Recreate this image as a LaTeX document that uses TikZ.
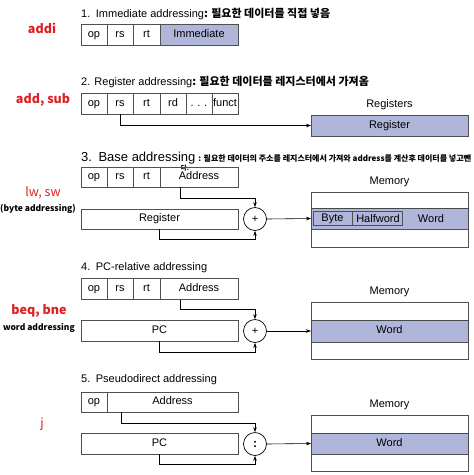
\documentclass[tikz,border=0pt]{standalone}
\usepackage{fontspec}
\setmainfont{Liberation Sans}
\newfontfamily\kr{Noto Sans CJK KR}
\usepackage{xcolor}
\usetikzlibrary{arrows.meta, positioning}
\definecolor{lav}{RGB}{176,182,218}
\definecolor{edge}{RGB}{80,80,80}
\definecolor{tagred}{RGB}{222,32,32}

\begin{document}
\begin{tikzpicture}[
      x=1pt, y=-1pt,
      field/.style={draw=edge, line width=0.7pt, minimum height=21pt, inner sep=0pt, outer sep=0pt,
        text height=8pt, text depth=2.2pt, font=\fontsize{11}{13}\selectfont},
      hl/.style={fill=lav},
      cell/.style={field, minimum width=157pt},
      band/.style={field, fill=lav, line width=1pt, draw=edge!90!black},
      adder/.style={circle, draw=black, line width=0.7pt, minimum size=23pt, inner sep=0pt,
        font=\fontsize{11}{12}\selectfont},
      title/.style={anchor=west, inner sep=0pt, font=\fontsize{11}{13}\selectfont},
      lbl/.style={inner sep=0pt, font=\fontsize{11}{13}\selectfont},
      tag/.style={inner sep=0pt, text=tagred, font=\kr\bfseries\fontsize{12.5}{14}\selectfont},
      note/.style={inner sep=0pt, font=\kr\bfseries\fontsize{8.5}{10}\selectfont},
      arr/.style={-{Stealth[length=5pt, width=3.5pt]}, line width=0.6pt}
    ]
    \useasboundingbox (0,0) rectangle (474,475);

    % 1. immediate
    \node[title] (t1) at (81,14) {1.\enspace Immediate addressing{\kr\bfseries\fontsize{11}{13}\selectfont: 필요한 데이터를 직접 넣음}};
    \node[tag] (tag1) at (42,28) {addi};
    \node[field, minimum width=26pt] (op1) at (94,34.5) {op};
    \node[field, minimum width=26pt, right=0pt of op1] (rs1) {rs};
    \node[field, minimum width=27pt, right=0pt of rs1] (rt1) {rt};
    \node[field, hl, minimum width=78pt, right=0pt of rt1] (imm1) {Immediate};

    % 2. register
    \node[title] (t2) at (81,82) {2. Register addressing{\kr\bfseries\fontsize{11}{13}\selectfont: 필요한 데이터를 레지스터에서 가져옴}};
    \node[tag] (tag2) at (43,100) {add, sub};
    \node[field, minimum width=26pt] (op2) at (94,103.5) {op};
    \node[field, minimum width=26pt, right=0pt of op2] (rs2) {rs};
    \node[field, minimum width=27pt, right=0pt of rs2] (rt2) {rt};
    \node[field, minimum width=26pt, right=0pt of rt2] (rd2) {rd};
    \node[field, minimum width=26pt, right=0pt of rd2] (dots2) {.\,\,.\,\,.};
    \node[field, minimum width=26pt, right=0pt of dots2] (fn2) {funct};
    \node[cell, hl] (reg2) at (389.5,125.5) {Register};
    \node[lbl, above=5pt of reg2] (regs2) {Registers};
    \draw[arr] (rs2.south) |- (reg2.west);

    % 3. base
    \node[title] (t3) at (81,158) {{\fontsize{13}{15}\selectfont 3.\enspace Base addressing} {\kr\bfseries\fontsize{8}{9}\selectfont: 필요한 데이터의 주소를 레지스터에서 가져와 address를 계산후 데이터를 넣고뺀}};
    \node[inner sep=0pt, font=\kr\bfseries\fontsize{6.5}{7}\selectfont] (t3b) at (185,168) {다.};
    \node[tag, font=\kr\fontsize{12.5}{14}\selectfont] (tag3) at (43,193) {lw, sw};
    \node[note] (note3) at (38,209) {(byte addressing)};
    \node[field, minimum width=26pt, minimum height=20pt] (op3) at (94,177) {op};
    \node[field, minimum width=26pt, minimum height=20pt, right=0pt of op3] (rs3) {rs};
    \node[field, minimum width=27pt, minimum height=20pt, right=0pt of rs3] (rt3) {rt};
    \node[field, minimum width=78pt, minimum height=20pt, right=0pt of rt3] (addr3) {Address};
    \node[field, minimum width=157pt, minimum height=20pt] (reg3) at (159.5,219) {Register};
    \node[adder] (add3) at (255,219) {+};
    \node[cell, minimum height=16pt] (mtop3) at (389.5,200) {};
    \node[band, minimum width=157pt, below=0pt of mtop3] (mword3) {};
    \node[cell, minimum height=18pt, below=0pt of mword3] (mbot3) {};
    \node[lbl, above=5pt of mtop3] (mem3) {Memory};
    \node[field, hl, minimum width=89pt, minimum height=14pt, anchor=west] (half3) at ([xshift=2pt]mword3.west) {};
    \node[field, hl, minimum width=39pt, minimum height=14pt, anchor=west] (byte3) at (half3.west) {Byte};
    \node[lbl] (hw3) at (378,219) {Halfword};
    \node[lbl] (w3) at (431,219) {Word};
    \draw[arr] ([xshift=20pt]addr3.south west) -- ++(0,11) -| (add3.north);
    \draw[arr] (reg3.south) -- ++(0,10) -| (add3.south);
    \draw[arr] (add3.east) -- (mword3.west);

    % 4. pc-relative
    \node[title] (t4) at (81,268) {4.\enspace PC-relative addressing};
    \node[tag] (tag4) at (39,311) {beq, bne};
    \node[note, anchor=east] (note4) at (75,328) {word addressing};
    \node[field, minimum width=26pt] (op4) at (94,289) {op};
    \node[field, minimum width=26pt, right=0pt of op4] (rs4) {rs};
    \node[field, minimum width=27pt, right=0pt of rs4] (rt4) {rt};
    \node[field, minimum width=78pt, right=0pt of rt4] (addr4) {Address};
    \node[field, minimum width=157pt] (pc4) at (159.5,330.5) {PC};
    \node[adder] (add4) at (255,331) {+};
    \node[cell, minimum height=18pt] (mtop4) at (389.5,311) {};
    \node[band, minimum width=157pt, minimum height=22pt, below=0pt of mtop4] (mword4) {Word};
    \node[cell, minimum height=17pt, below=0pt of mword4] (mbot4) {};
    \node[lbl, above=5pt of mtop4] (mem4) {Memory};
    \draw[arr] ([xshift=20pt]addr4.south west) -- ++(0,10) -| (add4.north);
    \draw[arr] (pc4.south) -- ++(0,11) -| (add4.south);
    \draw[arr] (add4.east) -- (mword4.west);

    % 5. pseudodirect
    \node[title] (t5) at (81,380) {5.\enspace Pseudodirect addressing};
    \node[tag, font=\kr\fontsize{12.5}{14}\selectfont] (tag5) at (42,424) {j};
    \node[field, minimum width=26pt, minimum height=20pt] (op5) at (94,402) {op};
    \node[field, minimum width=131pt, minimum height=20pt, right=0pt of op5] (addr5) {Address};
    \node[field, minimum width=157pt] (pc5) at (159.5,443.5) {PC};
    \node[adder, font=\fontsize{12}{12}\selectfont\bfseries] (cat5) at (255,444) {:};
    \node[cell, minimum height=18pt] (mtop5) at (389.5,424) {};
    \node[band, minimum width=157pt, below=0pt of mtop5] (mword5) {Word};
    \node[cell, minimum height=17pt, below=0pt of mword5] (mbot5) {};
    \node[lbl, above=5pt of mtop5] (mem5) {Memory};
    \draw[arr] ([xshift=14pt]addr5.south west) -- ++(0,11) -| (cat5.north);
    \draw[arr] (pc5.south) -- ++(0,10) -| (cat5.south);
    \draw[arr] (cat5.east) -- (mword5.west);
  \end{tikzpicture}
\end{document}
